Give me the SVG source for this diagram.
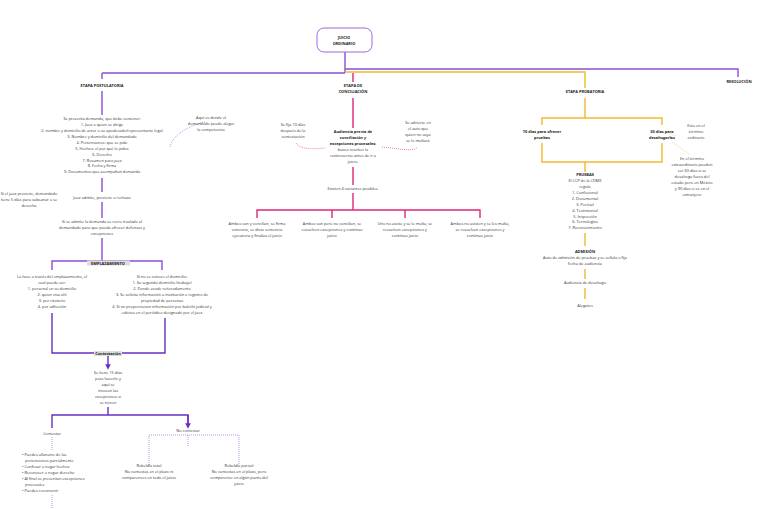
<svg xmlns="http://www.w3.org/2000/svg" width="768" height="509" viewBox="0 0 768 509">
<style>
text{font-family:"Open Sans","Liberation Sans",sans-serif;font-size:3.9px;fill:#333;text-anchor:middle}
.b{font-weight:bold;fill:#222}
.s{text-anchor:start}
.p{fill:none;stroke:#8a4fd6;stroke-width:1.4}
.d{fill:none;stroke:#6a2fc0;stroke-width:1.4}
.k{fill:none;stroke:#e0267a;stroke-width:1.4}
.o{fill:none;stroke:#f2b830;stroke-width:1.4}
.pd{fill:none;stroke:#8a4fd6;stroke-width:0.6;stroke-dasharray:1,1}
.kd{fill:none;stroke:#e0267a;stroke-width:0.6;stroke-dasharray:1,1}
.od{fill:none;stroke:#f2b830;stroke-width:0.6;stroke-dasharray:1,1}
.g{fill:#ddd}
</style>
<defs><marker id="a" markerWidth="4" markerHeight="4" refX="2" refY="2" orient="auto"><path d="M0,0L4,2L0,4z" fill="#6a2fc0"/></marker></defs>
<rect width="768" height="509" fill="#fff"/>
<g id="connectors">
<path class="p" d="M345,52V73M102,73H345M102,73V79M102,91V115M102,178V192M102,202V218M102,238V261M52,270V261H162V270"/>
<path class="p" d="M345,69H738V77"/>
<path class="o" d="M345,72H585V88M585,98V118M542,125V118H662V125M542,143V162H662V143M585,162V172M585,233V246M585,269V279M585,288V299"/>
<path class="k" d="M353,73V82M353,98V128M353,167V185M353,193V210M257,218V210H480V218M332,210V218M405,210V218"/>
<path class="d" d="M52,313V353H165V318"/>
<path class="d" d="M108,356V367" marker-end="url(#a)"/>
<path class="d" d="M108,407V415M52,428V415H188V426"/>
<path class="d" d="M188,415V426" marker-end="url(#a)"/>
<path class="pd" d="M52,437V451M52,495V509M149,465V435H239V465M188,435V447"/>
<path class="pd" d="M205,122C190,125 172,135 170,147"/>
<path class="kd" d="M296,143C300,150 315,149 325,148M382,147C395,148 410,152 417,148"/>
<path class="od" d="M676,136L668,132M672,142L690,155"/>
</g>
<g id="root"><rect x="317" y="28" width="55" height="24" rx="7" fill="#fff" stroke="#9a6be0" stroke-width="1"/><text class="b" x="344" y="39">JUICIO</text><text class="b" x="344" y="45">ORDINARIO</text></g>
<g id="postulatoria"><text class="b" x="102" y="87">ETAPA POSTULATORIA</text></g>
<g id="demanda"><text x="102" y="120">Se presenta demanda, que debe contener:</text><text x="102" y="126">1. Juez a quien se dirige</text><text x="102" y="132">2. nombre y domicilio de actor o su apoderado/representante legal</text><text x="102" y="138">3. Nombre y domicilio del demandado</text><text x="102" y="144">4. Pretensiones: que se pide</text><text x="102" y="150">5. Hechos: el por qué lo pides</text><text x="102" y="156">6. Derecho</text><text x="102" y="162">7. Resumen para juez</text><text x="102" y="167">8. Fecha y firma</text><text x="102" y="173">9. Documentos que acompañan demanda</text></g>
<g id="competencia"><text x="211" y="119">Aquí es donde el</text><text x="211" y="125">demandado puede alegar</text><text x="211" y="131">la competencia</text></g>
<g id="juez"><text x="102" y="198.5">Juez admite, previene o rechaza</text></g>
<g id="previene"><text x="29" y="195">Si el juez previene, demandado</text><text x="29" y="201">tiene 5 días para subsanar o se</text><text x="29" y="207">desecha</text></g>
<g id="traslado"><text x="102" y="223">Si se admite la demanda se corre traslado al</text><text x="102" y="229">demandado para que pueda ofrecer defensas y</text><text x="102" y="235">excepciones</text></g>
<g id="emplazamiento"><rect class="g" x="87" y="260.5" width="43" height="5"/><text class="b" x="108" y="264.5">EMPLAZAMIENTO</text></g>
<g id="emp1"><text x="52" y="278">La hace a través del emplazamiento, el</text><text x="52" y="284">cual puede ser:</text><text x="52" y="290">1. personal en su domicilio</text><text x="52" y="296">2. quien viva ahí</text><text x="52" y="302">3. por citatorio</text><text x="52" y="308">4. por adhesión</text></g>
<g id="emp2"><text x="162" y="278">Si no se conoce el domicilio:</text><text x="162" y="284">1. Su segundo domicilio (trabajo)</text><text x="162" y="290">2. Donde acude reiteradamente</text><text x="162" y="296">3. Se solicita información a institución o registro de</text><text x="162" y="302">propiedad de personas</text><text x="162" y="308">4. Si no proporcionan información por boletín judicial y</text><text x="162" y="314">edictos en el periódico designado por el juez</text></g>
<g id="contestacion"><rect class="g" x="94" y="351" width="28" height="5"/><text class="b" x="108" y="355">Contestación</text></g>
<g id="plazo"><text x="108" y="374">Se tiene 15 días</text><text x="108" y="380">para hacerlo y</text><text x="108" y="386">aquí se</text><text x="108" y="392">invocan las</text><text x="108" y="398">excepciones si</text><text x="108" y="404">se tienen</text></g>
<g id="contestar"><text x="52" y="435">Contestar</text></g>
<g id="nocontestar"><text x="188" y="432">No contestar</text></g>
<g id="opciones"><text class="s" x="22" y="456">• Puedes allanarte de las</text><text class="s" x="25" y="462">pretensiones parcialmente</text><text class="s" x="22" y="468">• Confesar o negar hechos</text><text class="s" x="22" y="474">• Reconocer o negar derecho</text><text class="s" x="22" y="480">• Al final se presentan excepciones</text><text class="s" x="25" y="486">procesales</text><text class="s" x="22" y="492">• Puedes reconvenir</text></g>
<g id="rtotal"><text x="149" y="467">Rebeldía total</text><text x="149" y="473">No contestas en el plazo ni</text><text x="149" y="479">comparences en todo el juicio</text></g>
<g id="rparcial"><text x="239" y="467">Rebeldía parcial</text><text x="239" y="473">No contestas en el plazo, pero</text><text x="239" y="479">comparence en algún punto del</text><text x="239" y="485">juicio</text></g>
<g id="conciliacion"><text class="b" x="353" y="87">ETAPA DE</text><text class="b" x="353" y="93">CONCILIACIÓN</text></g>
<g id="audiencia"><text class="b" x="353" y="133">Audiencia previa de</text><text class="b" x="353" y="139">conciliación y</text><text class="b" x="353" y="145">excepciones procesales:</text><text x="353" y="151">busca resolver la</text><text x="353" y="157">controversia antes de ir a</text><text x="353" y="163">juicio.</text></g>
<g id="fija"><text x="293" y="126">Se fija 10 días</text><text x="293" y="132">después de la</text><text x="293" y="138">contestación</text></g>
<g id="advierte"><text x="418" y="124">Se advierte en</text><text x="418" y="130">el auto que</text><text x="418" y="136">quien no vaya</text><text x="418" y="142">se le multará</text></g>
<g id="variantes"><text x="353" y="190">Existen 4 variantes posibles.</text></g>
<g id="v1"><text x="257" y="225">Ambos van y concilian, se firma</text><text x="257" y="231">convenio, se dicta sentencia</text><text x="257" y="237">ejecutoria y finaliza el juicio</text></g>
<g id="v2"><text x="332" y="225">Ambos van pero no concilian, se</text><text x="332" y="231">resuelven excepciones y continua</text><text x="332" y="237">juicio</text></g>
<g id="v3"><text x="405" y="225">Uno no asiste y se le multa, se</text><text x="405" y="231">resuelven excepciones y</text><text x="405" y="237">continua juicio</text></g>
<g id="v4"><text x="480" y="225">Ambos no asisten y se les multa,</text><text x="480" y="231">se resuelven excepciones y</text><text x="480" y="237">continua juicio</text></g>
<g id="probatoria"><text class="b" x="585" y="93">ETAPA PROBATORIA</text></g>
<g id="ofrecer"><text class="b" x="542" y="133">10 días para ofrecer</text><text class="b" x="542" y="139">pruebas</text></g>
<g id="desahogar"><text class="b" x="662" y="133">30 días para</text><text class="b" x="662" y="139">desahogarlas</text></g>
<g id="ordinario"><text x="696" y="127">Esto en el</text><text x="696" y="133">término</text><text x="696" y="139">ordinario</text></g>
<g id="extraordinario"><text x="692" y="160">En el término</text><text x="692" y="166">extraordinario pueden</text><text x="692" y="172">ser 60 días si se</text><text x="692" y="178">desahoga fuera del</text><text x="692" y="184">estado pero en México</text><text x="692" y="190">y 90 días si es en el</text><text x="692" y="196">extranjero</text></g>
<g id="pruebas"><text class="b" x="585" y="176">PRUEBAS</text><text x="585" y="182">El CCP de la CDMX</text><text x="585" y="188">regula</text><text x="585" y="194">1. Confesional</text><text x="585" y="200">2. Documental</text><text x="585" y="206">3. Pericial</text><text x="585" y="212">4. Testimonial</text><text x="585" y="218">5. Inspección</text><text x="585" y="223">6. Tecnologías</text><text x="585" y="229">7. Reconocimiento</text></g>
<g id="admision"><text class="b" x="585" y="253">ADMISIÓN</text><text x="585" y="259">Auto de admisión de pruebas y se señala o fija</text><text x="585" y="265">fecha de audiencia</text></g>
<g id="desahogo"><text x="585" y="284">Audiencia de desahogo</text></g>
<g id="alegatos"><text x="585" y="307">Alegatos</text></g>
<g id="resolucion"><text class="b" x="739" y="83">RESOLUCIÓN</text></g>
</svg>
